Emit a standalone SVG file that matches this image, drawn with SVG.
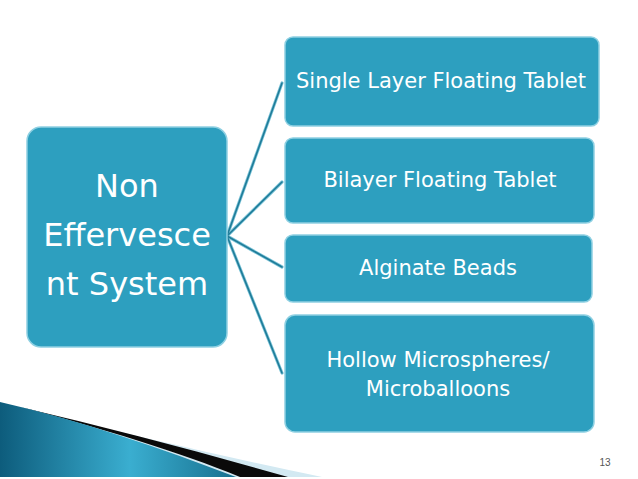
<svg xmlns="http://www.w3.org/2000/svg" width="638" height="479" viewBox="0 0 638 479">
<defs>
<style>
.box{fill:#2d9fbf;stroke:#8ed0e2;stroke-width:1.5}
.t{font-family:"DejaVu Sans",Verdana,sans-serif;fill:#ffffff;text-anchor:middle}
.c1{stroke:#7cc4d8;stroke-width:3.2;fill:none;stroke-linecap:round}
.c2{stroke:#1f7c99;stroke-width:1.6;fill:none;stroke-linecap:round}
</style>
<linearGradient id="blueg" x1="0" y1="0" x2="1" y2="0">
<stop offset="0" stop-color="#0d5c7c"/>
<stop offset="0.55" stop-color="#3aaed0"/>
<stop offset="1" stop-color="#17708f"/>
</linearGradient>
</defs>
<rect width="638" height="479" fill="#ffffff"/>
<g id="decoration">
<path d="M40,413 C140,437 240,460 322,477 L230,477 Z" fill="#d3e9f2"/>
<path d="M20,407 C100,428 180,452 240,477 L288,477 C200,452 110,428 20,407 Z" fill="#0a0a0a"/>
<path d="M0,402 C80,420 160,448 236,477 L0,477 Z" fill="url(#blueg)"/>
</g>
<g id="connectors">
<line class="c1" x1="227" y1="236" x2="282" y2="83"/>
<line class="c1" x1="227" y1="236" x2="282" y2="182"/>
<line class="c1" x1="227" y1="236" x2="282" y2="267"/>
<line class="c1" x1="227" y1="236" x2="282" y2="373"/>
<line class="c2" x1="227" y1="236" x2="282" y2="83"/>
<line class="c2" x1="227" y1="236" x2="282" y2="182"/>
<line class="c2" x1="227" y1="236" x2="282" y2="267"/>
<line class="c2" x1="227" y1="236" x2="282" y2="373"/>
</g>
<g id="root">
<rect class="box" x="27" y="127" width="200" height="220" rx="14"/>
<text class="t" font-size="32" x="127" y="197">Non</text>
<text class="t" font-size="32" x="127" y="246">Effervesce</text>
<text class="t" font-size="32" x="127" y="295">nt System</text>
</g>
<g id="n1">
<rect class="box" x="285" y="37" width="314" height="89" rx="8"/>
<text class="t" font-size="21" x="441" y="88">Single Layer Floating Tablet</text>
</g>
<g id="n2">
<rect class="box" x="285" y="138" width="309" height="85" rx="8"/>
<text class="t" font-size="21" x="440" y="187">Bilayer Floating Tablet</text>
</g>
<g id="n3">
<rect class="box" x="285" y="235" width="307" height="67" rx="8"/>
<text class="t" font-size="21" x="438" y="275">Alginate Beads</text>
</g>
<g id="n4">
<rect class="box" x="285" y="315" width="309" height="117" rx="10"/>
<text class="t" font-size="21" x="438" y="367">Hollow Microspheres/</text>
<text class="t" font-size="21" x="438" y="396">Microballoons</text>
</g>
<text x="605" y="466" font-family="Liberation Sans, Arial, sans-serif" font-size="10" fill="#555555" text-anchor="middle">13</text>
</svg>
